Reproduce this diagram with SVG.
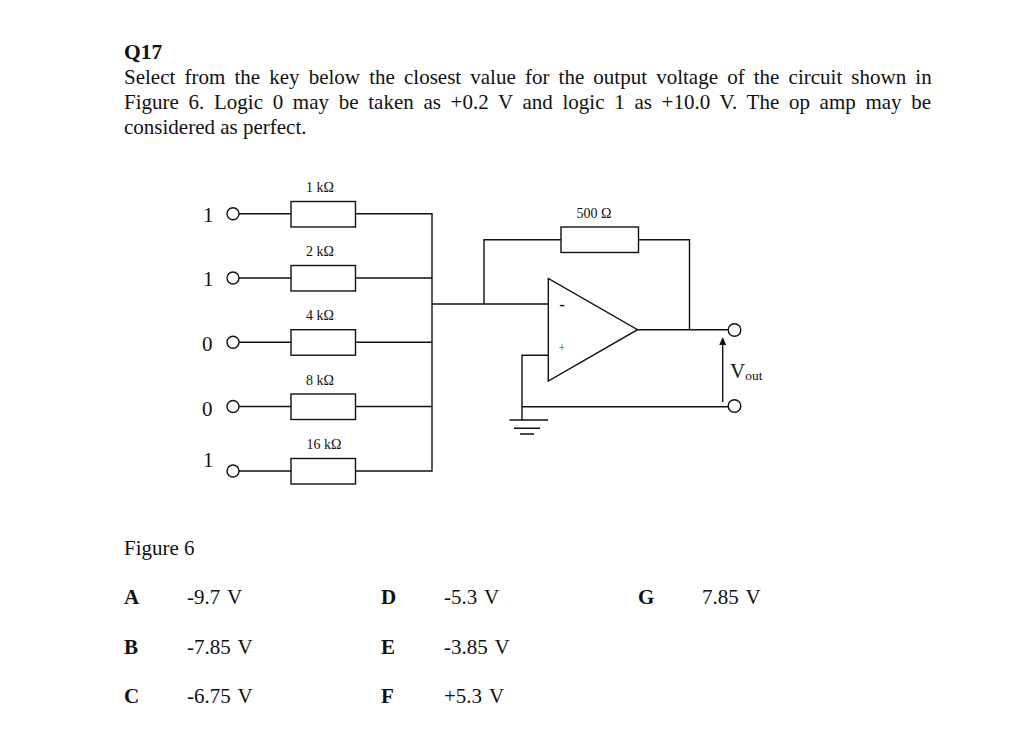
<svg xmlns="http://www.w3.org/2000/svg" width="1024" height="741" viewBox="0 0 1024 741">
<style>
text{font-family:"Liberation Serif","Times New Roman",serif;fill:#111}
.b{font-size:21px}
.k{font-size:21px;word-spacing:2px}
.bold{font-size:21px;font-weight:bold}
.v{font-size:14px;text-anchor:middle}
.w{fill:none;stroke:#111;stroke-width:1.4}
.r{fill:#fff;stroke:#111;stroke-width:1.4}
.c{fill:#fff;stroke:#111;stroke-width:1.4}
</style>
<defs><marker id="ah" markerUnits="userSpaceOnUse" markerWidth="8" markerHeight="7" refX="0" refY="3.5" orient="auto" viewBox="0 0 8 7"><path d="M0 0L8 3.5L0 7Z" fill="#111"/></marker></defs>
<rect width="1024" height="741" fill="#fff"/>
<g id="question">
<text class="bold" x="124" y="59" style="font-size:21.5px">Q17</text>
<text class="b" x="124" y="84" word-spacing="3.9">Select from the key below the closest value for the output voltage of the circuit shown in</text>
<text class="b" x="124" y="109" word-spacing="4.45">Figure 6. Logic 0 may be taken as +0.2 V and logic 1 as +10.0 V. The op amp may be</text>
<text class="b" x="124" y="134">considered as perfect.</text>
</g>
<g id="connectors">
<path class="w" d="M239 213.7H291M355 213.7H432V471H355M239 278H291M355 278H432M239 342.3H291M355 342.3H432M239 406.5H291M355 406.5H432M239 471H291"/>
<path class="w" d="M432 304H548M484 304V239.7H561M638 239.7H689.5V329.7M637.5 329.7H728M548 355.3H522V420M522 406.7H728"/>
<path class="w" d="M509.5 420H548M514 428.3H540M520 434H534"/>
<path class="w" d="M722.7 402V345" marker-end="url(#ah)"/>
</g>
<g id="in1"><circle class="c" cx="233" cy="213.7" r="6"/><text class="b" x="203" y="222">1</text></g>
<g id="in2"><circle class="c" cx="233" cy="278" r="6"/><text class="b" x="203" y="286">1</text></g>
<g id="in3"><circle class="c" cx="233" cy="342.3" r="6"/><text class="b" x="202" y="351">0</text></g>
<g id="in4"><circle class="c" cx="233" cy="406.5" r="6"/><text class="b" x="202" y="416">0</text></g>
<g id="in5"><circle class="c" cx="233" cy="471" r="6"/><text class="b" x="203" y="467">1</text></g>
<g id="r1"><rect class="r" x="291" y="201.5" width="64.5" height="25.5"/><text class="v" x="320" y="192">1 kΩ</text></g>
<g id="r2"><rect class="r" x="291" y="265.5" width="64.5" height="25.5"/><text class="v" x="320" y="256">2 kΩ</text></g>
<g id="r3"><rect class="r" x="291" y="329.7" width="64.5" height="25.5"/><text class="v" x="320" y="320">4 kΩ</text></g>
<g id="r4"><rect class="r" x="291" y="394" width="64.5" height="25.5"/><text class="v" x="320" y="385">8 kΩ</text></g>
<g id="r5"><rect class="r" x="291" y="458.5" width="64.5" height="25.5"/><text class="v" x="324" y="449">16 kΩ</text></g>
<g id="rf"><rect class="r" x="561" y="227" width="77.5" height="25.5"/><text class="v" x="594" y="218">500 Ω</text></g>
<g id="opamp"><path class="r" d="M548.3 278.5V381L637.5 329.7Z"/><text x="562" y="310" style="font-size:17px;font-weight:bold;text-anchor:middle">-</text><text x="562" y="352" style="font-size:12px;text-anchor:middle;fill:#445">+</text></g>
<g id="out1"><circle class="c" cx="734.5" cy="330" r="6.3"/></g>
<g id="out2"><circle class="c" cx="734.5" cy="406" r="6.3"/></g>
<g id="vout"><text class="b" x="730" y="378">V<tspan style="font-size:13.5px" dy="2">out</tspan></text></g>
<g id="key">
<text class="b" x="124" y="555">Figure 6</text>
<text class="bold" x="124" y="604">A</text><text class="k" x="187" y="604">-9.7 V</text>
<text class="bold" x="124" y="654">B</text><text class="k" x="187" y="654">-7.85 V</text>
<text class="bold" x="124" y="703">C</text><text class="k" x="187" y="703">-6.75 V</text>
<text class="bold" x="381" y="604">D</text><text class="k" x="444" y="604">-5.3 V</text>
<text class="bold" x="381" y="654">E</text><text class="k" x="444" y="654">-3.85 V</text>
<text class="bold" x="381" y="703">F</text><text class="k" x="444" y="703">+5.3 V</text>
<text class="bold" x="638" y="604">G</text><text class="k" x="702" y="604">7.85 V</text>
</g>
</svg>
